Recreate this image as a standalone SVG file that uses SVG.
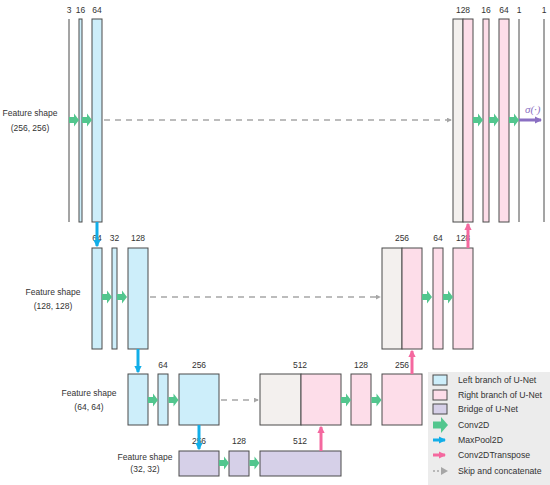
<svg xmlns="http://www.w3.org/2000/svg" width="550" height="485" viewBox="0 0 550 485">
<defs>
<style>
text{font-family:"Liberation Sans",Arial,sans-serif;font-size:8.5px;fill:#333}
.lg{font-size:8.7px}
.m{text-anchor:middle}
.L{fill:#cdeefa;stroke:#4a4a4a;stroke-width:1}
.R{fill:#fddde9;stroke:#4a4a4a;stroke-width:1}
.G{fill:#f3f0ee;stroke:#4a4a4a;stroke-width:1}
.B{fill:#d6d0e8;stroke:#4a4a4a;stroke-width:1}
.ln{stroke:#4a4a4a;stroke-width:1;fill:none}
.blue{stroke:#12aee8;stroke-width:3;fill:none}
.pink{stroke:#f4689f;stroke-width:3;fill:none}
.skip{stroke:#a6a6a6;stroke-width:1.5;stroke-dasharray:6 5;fill:none}
</style>
<path id="ga" d="M0,-3H5V-6.5L10,0L5,6.5V3H0Z" fill="#52c68e"/>
<marker id="hb" viewBox="0 0 6 6" refX="5" refY="3" markerWidth="2.4" markerHeight="2.4" orient="auto"><path d="M0,0L6,3L0,6Z" fill="#12aee8"/></marker>
<marker id="hp" viewBox="0 0 6 6" refX="5" refY="3" markerWidth="2.4" markerHeight="2.4" orient="auto"><path d="M0,0L6,3L0,6Z" fill="#f4689f"/></marker>
<marker id="hs" viewBox="0 0 6 6" refX="5" refY="3" markerWidth="5" markerHeight="5" orient="auto" markerUnits="userSpaceOnUse"><path d="M0,0L6,3L0,6Z" fill="#a6a6a6"/></marker>
<marker id="hv" viewBox="0 0 6 6" refX="5" refY="3" markerWidth="2.4" markerHeight="2.4" orient="auto"><path d="M0,0L6,3L0,6Z" fill="#8a6fc2"/></marker>
</defs>

<!-- Row 1 (256,256) -->
<g id="row1-text">
<text class="m" x="30" y="116">Feature shape</text>
<text class="m" x="30" y="131">(256, 256)</text>
</g>
<g id="n-in3"><line class="ln" x1="69" y1="19" x2="69" y2="222"/><text class="m" x="69" y="13">3</text></g>
<g id="n-l16"><rect class="L" x="79" y="19" width="3" height="203"/><text class="m" x="80.5" y="13">16</text></g>
<g id="n-l64a"><rect class="L" x="92" y="19" width="10" height="203"/><text class="m" x="97" y="13">64</text></g>
<g id="n-r128a"><rect class="G" x="453" y="19" width="10" height="203"/><rect class="R" x="463" y="19" width="10" height="203"/><text class="m" x="463" y="13">128</text></g>
<g id="n-r16"><rect class="R" x="483" y="19" width="6" height="203"/><text class="m" x="486" y="13">16</text></g>
<g id="n-r64"><rect class="R" x="499" y="19" width="10" height="203"/><text class="m" x="504" y="13">64</text></g>
<g id="n-out1a"><line class="ln" x1="519" y1="19" x2="519" y2="222"/><text class="m" x="519" y="13">1</text></g>
<g id="n-out1b"><line class="ln" x1="544" y1="19" x2="544" y2="222"/><text class="m" x="544" y="13">1</text></g>

<!-- Row 2 (128,128) -->
<g id="row2-text">
<text class="m" x="53" y="295">Feature shape</text>
<text class="m" x="53" y="309">(128, 128)</text>
</g>
<g id="n-l64b"><rect class="L" x="92" y="248" width="10" height="101"/><text class="m" x="97" y="241">64</text></g>
<g id="n-l32"><rect class="L" x="112" y="248" width="5" height="101"/><text class="m" x="114.5" y="241">32</text></g>
<g id="n-l128"><rect class="L" x="128" y="248" width="20" height="101"/><text class="m" x="138" y="241">128</text></g>
<g id="n-r256a"><rect class="G" x="382" y="248" width="20" height="101"/><rect class="R" x="402" y="248" width="20" height="101"/><text class="m" x="402" y="241">256</text></g>
<g id="n-r64b"><rect class="R" x="433" y="248" width="10" height="101"/><text class="m" x="438" y="241">64</text></g>
<g id="n-r128b"><rect class="R" x="453" y="248" width="20" height="101"/><text class="m" x="463" y="241">128</text></g>

<!-- Row 3 (64,64) -->
<g id="row3-text">
<text class="m" x="89" y="396">Feature shape</text>
<text class="m" x="89" y="410">(64, 64)</text>
</g>
<g id="n-l128b"><rect class="L" x="128" y="374" width="20" height="51"/></g>
<g id="n-l64c"><rect class="L" x="158" y="374" width="10" height="51"/><text class="m" x="163" y="368">64</text></g>
<g id="n-l256"><rect class="L" x="179" y="374" width="40" height="51"/><text class="m" x="199" y="368">256</text></g>
<g id="n-r512"><rect class="G" x="260" y="374" width="41" height="51"/><rect class="R" x="301" y="374" width="40" height="51"/><text class="m" x="300" y="368">512</text></g>
<g id="n-r128c"><rect class="R" x="351" y="374" width="20" height="51"/><text class="m" x="361" y="368">128</text></g>
<g id="n-r256b"><rect class="R" x="382" y="374" width="40" height="51"/><text class="m" x="402" y="368">256</text></g>

<!-- Row 4 bridge (32,32) -->
<g id="row4-text">
<text class="m" x="145" y="460">Feature shape</text>
<text class="m" x="145" y="472">(32, 32)</text>
</g>
<g id="n-b256"><rect class="B" x="179" y="451" width="40" height="25"/><text class="m" x="199" y="444">256</text></g>
<g id="n-b128"><rect class="B" x="229" y="451" width="20" height="25"/><text class="m" x="239" y="444">128</text></g>
<g id="n-b512"><rect class="B" x="260" y="451" width="81" height="25"/><text class="m" x="300" y="444">512</text></g>

<!-- Connectors -->
<g id="connectors">
<use href="#ga" x="69" y="120"/>
<use href="#ga" x="82" y="120"/>
<use href="#ga" x="473" y="120"/>
<use href="#ga" x="489" y="120"/>
<use href="#ga" x="509" y="120"/>
<use href="#ga" x="102" y="297"/>
<use href="#ga" x="117" y="297"/>
<use href="#ga" x="422" y="297"/>
<use href="#ga" x="443" y="297"/>
<use href="#ga" x="148" y="400"/>
<use href="#ga" x="168.5" y="400"/>
<use href="#ga" x="341" y="400"/>
<use href="#ga" x="371.5" y="400"/>
<use href="#ga" x="219" y="463"/>
<use href="#ga" x="249.5" y="463"/>
<line class="skip" x1="104" y1="120" x2="451" y2="120" marker-end="url(#hs)"/>
<line class="skip" x1="150" y1="297" x2="380" y2="297" marker-end="url(#hs)"/>
<line class="skip" x1="221" y1="400" x2="258" y2="400" marker-end="url(#hs)"/>
<line class="blue" x1="97" y1="222" x2="97" y2="246" marker-end="url(#hb)"/>
<line class="blue" x1="138" y1="349" x2="138" y2="372" marker-end="url(#hb)"/>
<line class="blue" x1="199" y1="425" x2="199" y2="449" marker-end="url(#hb)"/>
<line class="pink" x1="321" y1="451" x2="321" y2="427" marker-end="url(#hp)"/>
<line class="pink" x1="412" y1="374" x2="412" y2="351" marker-end="url(#hp)"/>
<line class="pink" x1="468" y1="248" x2="468" y2="224" marker-end="url(#hp)"/>
<line x1="519" y1="120" x2="541" y2="120" stroke="#8a6fc2" stroke-width="3" marker-end="url(#hv)"/>
<text x="525" y="113" font-style="italic" style="fill:#8a6fc2;font-family:'Liberation Serif',serif;font-size:11px">σ(·)</text>
</g>

<!-- Legend -->
<g id="legend">
<rect x="428" y="372" width="122" height="113" fill="#ececec"/>
<rect class="L" x="433" y="375" width="14" height="10"/>
<text class="lg" x="458" y="383">Left branch of U-Net</text>
<rect class="R" x="433" y="390" width="14" height="10"/>
<text class="lg" x="458" y="398">Right branch of U-Net</text>
<rect class="B" x="433" y="404" width="14" height="10"/>
<text class="lg" x="458" y="412">Bridge of U-Net</text>
<path d="M433,421.5H441V417L448,425L441,433V428.5H433Z" fill="#52c68e"/>
<text class="lg" x="458" y="428">Conv2D</text>
<line class="blue" x1="433" y1="440" x2="445" y2="440" stroke-width="2.5" marker-end="url(#hb)"/>
<text class="lg" x="458" y="443">MaxPool2D</text>
<line class="pink" x1="433" y1="455" x2="445" y2="455" stroke-width="2.5" marker-end="url(#hp)"/>
<text class="lg" x="458" y="458">Conv2DTranspose</text>
<line x1="433" y1="471" x2="441" y2="471" stroke="#a6a6a6" stroke-width="1.5" stroke-dasharray="2 2"/>
<path d="M441,467L448,471L441,475Z" fill="#a6a6a6"/>
<text class="lg" x="458" y="474">Skip and concatenate</text>
</g>
</svg>
